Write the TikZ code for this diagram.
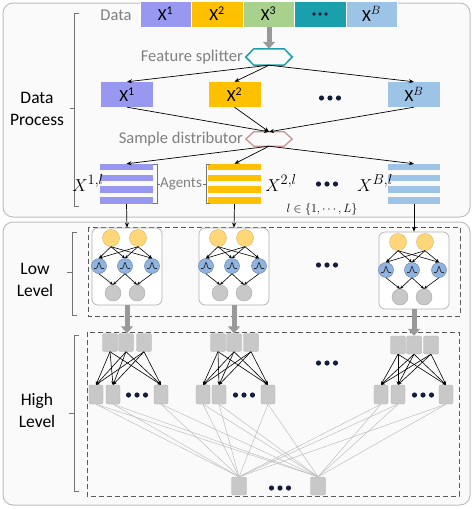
\documentclass[tikz,border=0pt]{standalone}
\usepackage{fontspec}
\setmainfont{Carlito}
\usetikzlibrary{arrows.meta,calc}
\definecolor{xpurple}{RGB}{152,152,240}
\definecolor{xorange}{RGB}{255,192,0}
\definecolor{xgreen}{RGB}{169,209,142}
\definecolor{xteal}{RGB}{26,160,172}
\definecolor{xblue}{RGB}{157,195,230}
\definecolor{nyellow}{RGB}{255,214,120}
\definecolor{nblue}{RGB}{143,180,226}
\definecolor{ngray}{RGB}{200,200,200}
\definecolor{dotc}{RGB}{20,30,60}
\definecolor{lblgray}{RGB}{128,128,128}
\definecolor{sdrose}{RGB}{200,150,150}
\begin{document}
\begin{tikzpicture}[x=1pt,y=-1pt,
 panel/.style={draw=black!25,line width=1pt,rounded corners=10pt,fill=black!2},
 dashbox/.style={draw=black!65,line width=1pt,dash pattern=on 5pt off 3pt},
 dbox/.style={minimum width=51.5pt,minimum height=26pt,inner sep=0pt,draw=white,line width=0.4pt,font=\fontsize{17}{17}\selectfont},
 rbox/.style={minimum width=52pt,minimum height=25pt,inner sep=0pt,font=\fontsize{17}{17}\selectfont},
 hexn/.style={minimum width=46pt,minimum height=16pt,inner sep=0pt},
 glbl/.style={text=lblgray,font=\fontsize{16.5}{16.5}\selectfont,inner sep=0pt},
 side/.style={align=center,font=\fontsize{17.5}{22}\selectfont},
 mlbl/.style={font=\fontsize{19}{19}\selectfont,inner sep=0pt},
 arr/.style={-{Stealth[length=5pt,width=4pt]},line width=0.7pt},
 sarr/.style={-{Stealth[length=3.5pt,width=3pt]},line width=0.6pt},
 fatarr/.style={-{Triangle[length=7pt,width=12pt]},line width=5pt,draw=black!40},
 gline/.style={draw=black!25,line width=0.5pt},
 brk/.style={draw=black!55,line width=0.7pt},
 modbox/.style={draw=black!30,rounded corners=6pt,fill=white,minimum width=70pt,minimum height=77pt,line width=0.7pt,inner sep=0pt},
 ycirc/.style={circle,fill=nyellow,draw=nyellow!85!black,minimum size=17pt,inner sep=0pt,line width=0.4pt},
 bcirc/.style={circle,fill=nblue,draw=nblue!75!black,minimum size=15pt,inner sep=0pt,line width=0.5pt},
 gcirc/.style={circle,fill=ngray,draw=ngray!85!black,minimum size=16pt,inner sep=0pt,line width=0.4pt},
 sq/.style={rounded corners=2pt,fill=ngray,draw=black!30,line width=0.4pt,inner sep=0pt,minimum width=15pt,minimum height=18pt},
 threedots/.pic={\foreach \i in {-1,0,1}\fill[dotc](\i*8.5,0)circle(2.6pt);}]
\useasboundingbox[fill=white](0,0)rectangle(474,509);
% panels
\draw[panel](3,3)rectangle(470,217);\draw[panel](3,222)rectangle(470,505);
% data process
\node[side](dp)at(37,109){Data\\Process};
\draw[brk](79,13)--(74,13)--(74,206)--(79,206)(74,108)--(70,108);
\node[glbl](datalbl)at(116,15){Data};
\node[dbox,fill=xpurple](d1)at(165.5,14){X\textsuperscript{1}};\node[dbox,fill=xorange](d2)at(217,14){X\textsuperscript{2}};\node[dbox,fill=xgreen](d3)at(268.5,14){X\textsuperscript{3}};\node[dbox,fill=xteal](d4)at(320,14){};\node[dbox,fill=xblue](d5)at(371.5,14){X$^{B}$};
\pic[scale=0.7]at(d4){threedots};
\node[hexn](fs)at(269,57){};\node[glbl,anchor=east](fslbl)at(243,57){Feature splitter};
\draw[xteal,line width=1.5pt](fs.west)--([xshift=8pt]fs.north west)--([xshift=-8pt]fs.north east)--(fs.east)--([xshift=-8pt]fs.south east)--([xshift=8pt]fs.south west)--cycle;
\draw[fatarr](d3.south-|fs.north)--(fs.north);
\node[rbox,fill=xpurple](r1)at(127,94.5){X\textsuperscript{1}};\node[rbox,fill=xorange](r2)at(234.5,94.5){X\textsuperscript{2}};\node[rbox,fill=xblue](r3)at(414,94.5){X$^{B}$};
\pic at(330,98){threedots};
\draw[arr](fs.south)--(r1.north);\draw[arr](fs.south)--(r2.north);\draw[arr](fs.south)--(r3.north);
\node[hexn,minimum height=14pt](sd)at(269,139){};\node[glbl,anchor=east](sdlbl)at(243,139){Sample distributor};
\draw[sdrose,line width=1.3pt](sd.west)--([xshift=8pt]sd.north west)--([xshift=-8pt]sd.north east)--(sd.east)--([xshift=-8pt]sd.south east)--([xshift=8pt]sd.south west)--cycle;
\draw[arr](r1.south)--(sd.north);\draw[arr](r2.south)--(sd.north);\draw[arr](r3.south)--(sd.north);
% agents
\node[minimum width=53pt,minimum height=40pt,inner sep=0pt](s1)at(126.5,184){};\node[minimum width=52pt,minimum height=40pt,inner sep=0pt](s2)at(234.5,184){};\node[minimum width=52pt,minimum height=40pt,inner sep=0pt](s3)at(414,184){};
\foreach \s/\c in {s1/xpurple,s2/xorange,s3/xblue}\foreach \k in {0,...,3}\fill[\c]($(\s.north west)+(0,\k*11.1)$)rectangle($(\s.north east)+(0,\k*11.1+6.5)$);
\node[mlbl](l1)at(88,183){$X^{1,l}$};\node[mlbl](l2)at(281,183){$X^{2,l}$};\node[mlbl](l3)at(375,183){$X^{B,l}$};
\pic at(327,184){threedots};
\node[text=lblgray,font=\fontsize{15}{15}\selectfont,inner sep=0pt](ag)at(181,184){Agents};
\draw[brk](153,164)--(157,164)--(157,203)--(153,203)(157,184)--(160,184);
\draw[brk](210,164)--(206,164)--(206,203)--(210,203)(206,184)--(203,184);
\node[font=\fontsize{11.5}{11.5}\selectfont](lrange)at(322,209){$l\in\{1,\cdots,L\}$};
\draw[arr](sd.south)--(s1.north);\draw[arr](sd.south)--(s2.north);\draw[arr](sd.south)--(s3.north);
% low level
\node[side](ll)at(35,280){Low\\Level};
\draw[brk](77,232)--(72,232)--(72,315)--(77,315)(72,272)--(67,272);
\draw[dashbox](88,227)rectangle(460,316);
\foreach \m/\L/\T in {1/92/228,2/199/228,3/379/232}{
 \node[modbox](m\m)at(\L+35,\T+38.5){};
 \node[ycirc](yl\m-1)at(\L+19,\T+10){};\node[ycirc](yl\m-2)at(\L+46,\T+10){};
 \foreach \j/\dx in {1/7,2/33,3/60}\node[bcirc](bl\m-\j)at(\L+\dx,\T+38){};
 \node[gcirc](gr\m-1)at(\L+21,\T+65){};\node[gcirc](gr\m-2)at(\L+45,\T+65){};
 \foreach \i in {1,2}\foreach \j in {1,2,3}\draw[sarr](yl\m-\i.south)--(bl\m-\j.north);
 \foreach \j/\k in {1/1,2/1,2/2,3/2}\draw[sarr](bl\m-\j.south)--(gr\m-\k.north);
 \foreach \j in {1,2,3}\draw[line width=0.7pt,black!85,shift={(bl\m-\j.center)}]plot[domain=-5:5,samples=25](\x,{2.5-6*exp(-(\x)^2/2)});
}
\pic at(327,265){threedots};
\draw[arr](s1.south)--(m1.north);\draw[arr](s2.south)--(m2.north);\draw[arr](s3.south)--(m3.north);
% high level
\node[side](hl)at(37,410){High\\Level};
\draw[brk](79,335)--(74,335)--(74,491)--(79,491)(74,413)--(69,413);
\draw[dashbox](87,332)rectangle(459,496);
\node[sq](out1)at(239,486){};\node[sq](out2)at(318,486){};
\pic at(280,488){threedots};
\foreach \g/\ta/\tb/\tc/\ty/\ba/\bb/\bd/\bc in {1/110/126/144/342.5/96/113/137/161,2/218/234/251/342.5/203/219/244/268,3/398/414/431/345/381/398/423/446}{
 \node[sq](tp\g-1)at(\ta,\ty){};\node[sq](tp\g-2)at(\tb,\ty){};\node[sq](tp\g-3)at(\tc,\ty){};
 \node[sq,minimum width=14pt,minimum height=19pt](md\g-1)at(\ba,394.5){};\node[sq,minimum width=14pt,minimum height=19pt](md\g-2)at(\bb,394.5){};\node[sq,minimum width=14pt,minimum height=19pt](md\g-3)at(\bc,394.5){};
 \pic at(\bd,395){threedots};
 \foreach \i in {1,2,3}\foreach \j in {1,2,3}\draw[sarr](tp\g-\i.south)--(md\g-\j.north);
 \foreach \j in {1,2,3}\foreach \o in {1,2}\draw[gline](md\g-\j.south)--(out\o.north);
}
\pic at(327,363){threedots};
\draw[fatarr](m1.south)--(m1.south|-tp1-2.north);\draw[fatarr](m2.south)--(m2.south|-tp2-2.north);\draw[fatarr](m3.south)--(m3.south|-tp3-2.north);
\end{tikzpicture}
\end{document}
